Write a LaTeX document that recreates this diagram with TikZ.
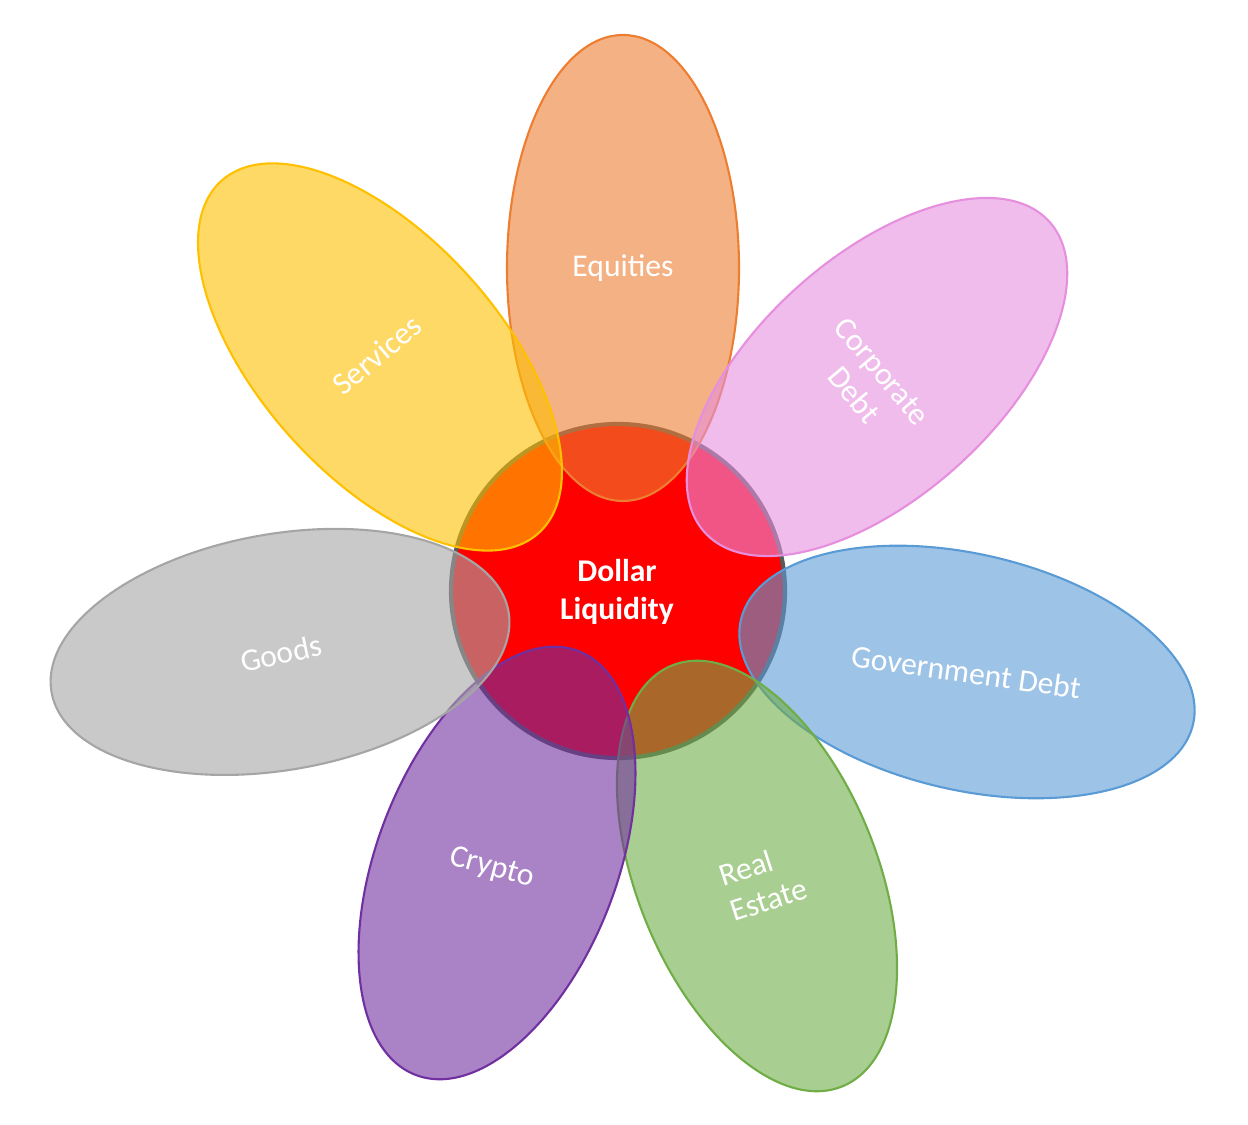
\documentclass[tikz,border=0pt]{standalone}
\usepackage{fontspec}
\setmainfont{Carlito}
\begin{document}
\begin{tikzpicture}[x=0.02cm,y=0.02cm,
  petal/.style={fill opacity=0.6, line width=1.2pt},
  lbl/.style={text=white, font=\fontsize{18}{21}\selectfont, align=center}]
\useasboundingbox (0,0) rectangle (1248,1125);
\definecolor{cEq}{HTML}{ED7D31}
\definecolor{cSv}{HTML}{FFC000}
\definecolor{cCo}{HTML}{E68FDE}
\definecolor{cGv}{HTML}{5B9BD5}
\definecolor{cRe}{HTML}{70AD47}
\definecolor{cCr}{HTML}{7030A0}
\definecolor{cGo}{HTML}{A5A5A5}
\coordinate (c) at (618,534);
\fill[red] (c) circle (167);
\draw[line width=2.4pt, draw=black!65] (c) circle (167);
\coordinate (pEq) at (623,857);
\coordinate (pSv) at (380,768);
\coordinate (pCo) at (877,748);
\coordinate (pGv) at (967,453);
\coordinate (pRe) at (757,249);
\coordinate (pCr) at (497,262);
\coordinate (pGo) at (280,473);
\draw[petal, draw=cEq, fill=cEq, rotate around={90:(pEq)}] (pEq) ellipse [x radius=233, y radius=116];
\draw[petal, draw=cSv, fill=cSv, rotate around={-48:(pSv)}] (pSv) ellipse [x radius=237, y radius=120];
\draw[petal, draw=cCo, fill=cCo, rotate around={42:(pCo)}] (pCo) ellipse [x radius=232, y radius=120];
\draw[petal, draw=cGv, fill=cGv, rotate around={-13:(pGv)}] (pGv) ellipse [x radius=232, y radius=118];
\draw[petal, draw=cRe, fill=cRe, rotate around={112:(pRe)}] (pRe) ellipse [x radius=227, y radius=120];
\draw[petal, draw=cCr, fill=cCr, rotate around={69:(pCr)}] (pCr) ellipse [x radius=227, y radius=120];
\draw[petal, draw=cGo, fill=cGo, rotate around={10:(pGo)}] (pGo) ellipse [x radius=232, y radius=118];
\node[lbl] (tEq) at (623,857) {Equities};
\node[lbl, rotate=40] (tSv) at (377,770) {Services};
\node[lbl, rotate=-50] (tCo) at (868,742) {Corporate\\Debt};
\node[lbl, rotate=-8] (tGv) at (966,453) {Government Debt};
\node[lbl, rotate=18, align=left] (tRe) at (763,243) {Real\\Estate};
\node[lbl, rotate=-15] (tCr) at (492,257) {Crypto};
\node[lbl, rotate=12] (tGo) at (281,472) {Goods};
\node[lbl, font=\fontsize{18}{22}\selectfont\bfseries] (tDl) at (617,533) {Dollar\\Liquidity};
\end{tikzpicture}
\end{document}
